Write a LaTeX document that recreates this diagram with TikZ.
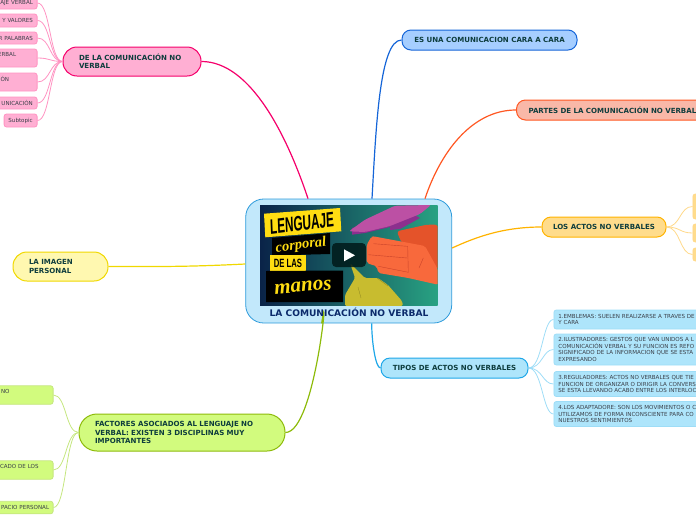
\documentclass[tikz,border=0pt]{standalone}
\usepackage{fontspec}
\usepackage{xcolor}
\setmainfont{DejaVu Sans}
\newfontfamily\thumbfont{Liberation Sans}
\newfontfamily\thumbscript{Liberation Serif}
\usetikzlibrary{calc}
\definecolor{inktext}{HTML}{0E3D3D}
\definecolor{inksub}{HTML}{3A3F48}
\definecolor{inkcentral}{HTML}{0B2A6B}
\definecolor{pinkfill}{HTML}{FFAFD3}
\definecolor{pinkline}{HTML}{F5006B}
\definecolor{pinksoft}{HTML}{FF93C2}
\definecolor{bluefill}{HTML}{A6CEFF}
\definecolor{blueline}{HTML}{1565D8}
\definecolor{redfill}{HTML}{F9B8A8}
\definecolor{redline}{HTML}{FF5722}
\definecolor{goldfill}{HTML}{FFDC8C}
\definecolor{goldline}{HTML}{FFB300}
\definecolor{goldsoft}{HTML}{FFD98A}
\definecolor{cyanfill}{HTML}{AEE5FB}
\definecolor{cyanline}{HTML}{1EA7E8}
\definecolor{cyansoft}{HTML}{9EDDF7}
\definecolor{lemonfill}{HTML}{FFF8B0}
\definecolor{lemonline}{HTML}{F0D800}
\definecolor{limefill}{HTML}{D2FB7E}
\definecolor{limeline}{HTML}{8DBB0A}
\definecolor{limesoft}{HTML}{C5E67F}
\definecolor{centralfill}{HTML}{C2E8FB}
\definecolor{centralline}{HTML}{2E9BDB}
\definecolor{thumbyellow}{HTML}{FFDD12}
\definecolor{thumbpink}{HTML}{BC50A4}
\definecolor{thumbpurple}{HTML}{8C2F8E}
\definecolor{thumbdark}{HTML}{E4532A}
\definecolor{thumborange}{HTML}{F8693C}
\definecolor{thumbcrease}{HTML}{C9432A}
\definecolor{thumbolive}{HTML}{C8BC2F}
\definecolor{thumbnavy}{HTML}{0A2348}
\definecolor{thumbteal}{HTML}{1A8094}
\definecolor{thumbgreen}{HTML}{28A282}
\tikzset{
	every picture/.style={x=1pt,y=-1pt},
	topic/.style={draw,line width=1pt,rounded corners=#1,font=\fontsize{7.05}{8.3}\selectfont\bfseries,
		text=inktext,align=left,inner ysep=0pt},
	subtopic/.style={draw,line width=.8pt,rounded corners=2.5pt,font=\fontsize{5.55}{6.5}\selectfont,
		text=inksub,inner ysep=0pt,anchor=east},
	sublink/.style={line width=.8pt},
	mainlink/.style={line width=1.2pt}
}
\begin{document}
\begin{tikzpicture}
\useasboundingbox (0,0) rectangle (696,520);
\clip (0,0) rectangle (696,520);
%中心主题
\node[draw=centralline,fill=centralfill,line width=.8pt,rounded corners=18pt,
	minimum width=206pt,minimum height=124pt,inner sep=0pt] (central) at (348.7,261) {};
%一级主题
\node[topic=14pt,draw=pinkline,fill=pinkfill,text width=106pt,inner xsep=16pt,minimum height=29pt] (topicde) at (132,61.5)
	{DE LA COMUNICACIÓN NO\\VERBAL};
\node[topic=9pt,draw=blueline,fill=bluefill,align=center,minimum width=175pt,minimum height=20pt] (topiccara) at (489.5,40)
	{ES UNA COMUNICACION CARA A CARA};
\node[topic=9pt,draw=redline,fill=redfill,anchor=west,text width=180pt,inner xsep=12pt,minimum height=20pt] (topicpartes) at (516,110)
	{PARTES DE LA COMUNICACIÓN NO VERBAL};
\node[topic=9pt,draw=goldline,fill=goldfill,align=center,minimum width=124pt,minimum height=20pt] (topicactos) at (604,227)
	{LOS ACTOS NO VERBALES};
\node[topic=9pt,draw=cyanline,fill=cyanfill,align=center,minimum width=147pt,minimum height=20pt] (topictipos) at (454.5,368)
	{TIPOS DE ACTOS NO VERBALES};
\node[topic=14pt,draw=lemonline,fill=lemonfill,text width=63pt,inner xsep=16pt,minimum height=29pt] (topicimagen) at (60.5,266.5)
	{LA IMAGEN\\PERSONAL};
\node[topic=18pt,draw=limeline,fill=limefill,text width=174pt,inner xsep=16pt,minimum height=37pt] (topicfactores) at (182,432.5)
	{FACTORES ASOCIADOS AL LENGUAJE NO\\VERBAL: EXISTEN 3 DISCIPLINAS MUY\\IMPORTANTES};
%中心主题到一级主题的连线
\draw[mainlink,pinkline] (topicde.east) .. controls +(50,0) and +(-20,-60) .. ([xshift=-40.7pt]central.north);
\draw[mainlink,blueline] (topiccara.west) .. controls +(-22,0) and +(4,-70) .. ([xshift=23.3pt]central.north);
\draw[mainlink,redline] (topicpartes.west) .. controls +(-45,0) and +(15,-45) .. ([xshift=76.3pt]central.north);
\draw[mainlink,goldline] (topicactos.west) .. controls +(-40,0) and +(22,-10) .. ([yshift=13pt]central.east);
\draw[mainlink,cyanline] (topictipos.west) .. controls +(-5,0) and +(0,18) .. ([xshift=23pt]central.south);
\draw[mainlink,lemonline] (topicimagen.east) .. controls +(50,0) and +(-60,3) .. ([yshift=-3pt]central.west);
\draw[mainlink,limeline] (topicfactores.east) .. controls +(30,0) and +(8,-55) .. ([xshift=-27pt]central.south);
%左上粉色子主题
\node[subtopic,draw=pinksoft,fill=pinkfill,align=right,text width=41pt,inner xsep=4.2pt,minimum height=12pt] (subpa) at (37.5,3) {AJE VERBAL};
\node[subtopic,draw=pinksoft,fill=pinkfill,align=right,text width=41pt,inner xsep=4.2pt,minimum height=13pt] (subpb) at (37.5,20.5) {Y VALORES};
\node[subtopic,draw=pinksoft,fill=pinkfill,align=right,text width=41pt,inner xsep=4.2pt,minimum height=12pt] (subpc) at (37.5,38) {R PALABRAS};
\node[subtopic,draw=pinksoft,fill=pinkfill,align=right,text width=41pt,inner xsep=4.2pt,minimum height=18pt] (subpd) at (37.5,58) {\mbox{ERBAL\kern16.8pt}\\\mbox{}};
\node[subtopic,draw=pinksoft,fill=pinkfill,align=right,text width=41pt,inner xsep=4.2pt,minimum height=18pt] (subpe) at (37.5,82) {\mbox{ÓN\kern23.8pt}\\\mbox{}};
\node[subtopic,draw=pinksoft,fill=pinkfill,align=right,text width=41pt,inner xsep=4.2pt,minimum height=12pt] (subpf) at (37.5,103) {UNICACIÓN};
\node[subtopic,draw=pinksoft,fill=pinkfill,minimum width=33pt,minimum height=13pt,inner xsep=0pt,align=center] (subpg) at (37.5,120.5) {Subtopic};
\foreach \sub in {subpa,subpb,subpc,subpd,subpe,subpf,subpg}
	\draw[sublink,pinksoft] (topicde.west) .. controls +(-13,0) and +(13,0) .. (\sub.east);
%右侧黄色子主题
\node[subtopic,draw=goldsoft,fill=goldfill,anchor=west,minimum width=20pt,minimum height=25pt] (subga) at (692.5,206.5) {};
\node[subtopic,draw=goldsoft,fill=goldfill,anchor=west,minimum width=20pt,minimum height=18pt] (subgb) at (692.5,233) {};
\node[subtopic,draw=goldsoft,fill=goldfill,anchor=west,minimum width=20pt,minimum height=13pt] (subgc) at (692.5,254.5) {};
\foreach \sub in {subga,subgb,subgc}
	\draw[sublink,goldsoft] (topicactos.east) .. controls +(14,0) and +(-13,0) .. (\sub.west);
%右下蓝色子主题
\node[subtopic,draw=cyansoft,fill=cyanfill,anchor=west,align=left,text width=190pt,inner xsep=4.5pt,minimum height=19pt] (subca) at (553.5,319.5)
	{1.EMBLEMAS: SUELEN REALIZARSE A TRAVES DE\\Y CARA};
\node[subtopic,draw=cyansoft,fill=cyanfill,anchor=west,align=left,text width=190pt,inner xsep=4.5pt,minimum height=31pt] (subcb) at (553.5,349.5)
	{2.ILUSTRADORES: GESTOS QUE VAN UNIDOS A L\\COMUNICACIÓN VERBAL Y SU FUNCION ES REFO\\SIGNIFICADO DE LA INFORMACION QUE SE ESTA\\EXPRESANDO};
\node[subtopic,draw=cyansoft,fill=cyanfill,anchor=west,align=left,text width=190pt,inner xsep=4.5pt,minimum height=25pt] (subcc) at (553.5,384)
	{3.REGULADORES: ACTOS NO VERBALES QUE TIE\\FUNCION DE ORGANIZAR O DIRIGIR LA CONVERS\\SE ESTA LLEVANDO ACABO ENTRE LOS INTERLOC};
\node[subtopic,draw=cyansoft,fill=cyanfill,anchor=west,align=left,text width=190pt,inner xsep=4.5pt,minimum height=25pt] (subcd) at (553.5,414)
	{4.LOS ADAPTADORE: SON LOS MOVIMIENTOS O C\\UTILIZAMOS DE FORMA INCONSCIENTE PARA CO\\NUESTROS SENTIMIENTOS};
\foreach \sub in {subca,subcb,subcc,subcd}
	\draw[sublink,cyansoft] (topictipos.east) .. controls +(14,0) and +(-11,0) .. (\sub.west);
%左下绿色子主题
\node[subtopic,draw=limesoft,fill=limefill,align=right,text width=55pt,inner xsep=4pt,minimum height=18.5pt] (subla) at (53.5,395) {\mbox{NO\kern39.5pt}\\\mbox{}};
\node[subtopic,draw=limesoft,fill=limefill,align=right,text width=55pt,inner xsep=4pt,minimum height=18.5pt] (sublb) at (53.5,470) {\mbox{CADO DE LOS\kern10.5pt}\\\mbox{}};
\node[subtopic,draw=limesoft,fill=limefill,align=right,text width=55pt,inner xsep=4pt,minimum height=12.5pt] (sublc) at (53.5,507.5) {PACIO PERSONAL};
\foreach \sub in {subla,sublb,sublc}
	\draw[sublink,limesoft] (topicfactores.west) .. controls +(-13,0) and +(13,0) .. (\sub.east);
%视频缩略图
\begin{scope}
\clip (260,205) rectangle (437.5,305);
\shade[left color=thumbnavy,middle color=thumbteal,right color=thumbgreen] (260,205) rectangle (437.5,305);
%紫色的手
\fill[thumbpurple] (352,234.7) -- (365,233) -- (390,227) -- (390,230) -- (400,229) -- (420,218) -- (410,212) -- (352,228) -- cycle;
\fill[thumbpink,rounded corners=2pt] (349,231.3) -- (365,219.7) -- (395,205.7) -- (431,205) -- (420,214) -- (390,226) -- (365,232) -- cycle;
%橙色的手
\fill[thumbdark,rounded corners=3pt] (396.7,231.3) -- (426.7,224.7) -- (438,224.7) -- (438,269.7) -- (426.7,268) -- (421.7,246.3) -- (401.7,243) -- cycle;
\fill[thumborange,rounded corners=2pt] (373.3,236.3) -- (400,241.3) -- (425,246) -- (438,269.7) -- (438,284.7) -- (408.3,278) -- (378.3,273) -- (376.7,266.3) -- (366.7,263) -- (366.7,244.7) -- (371.7,236.3) -- cycle;
\draw[thumbcrease,line width=.4pt] (373.3,243.7) -- (407.3,246.3) (368.3,254.7) -- (407.3,258) (378.3,266.3) -- (408.3,272.3) (407.7,246.3) -- (408.3,272.3) (419,268) -- (423.3,258);
%黄绿色的手
\fill[thumbolive,rounded corners=1.5pt] (350,263) -- (365,278) -- (378,278) -- (388,285) -- (402,301) -- (403,306) -- (345,306) -- (345,295) -- (355,278) -- cycle;
\draw[thumbolive!70!black,line width=.3pt] (358,287) -- (361,298) (377,278) -- (388,286);
%文字色块
\fill[thumbyellow] (264,213.7) -- (340,208) -- (341.3,231.3) -- (265.3,237.3) -- cycle;
\fill[black] (272,238) -- (330,233) -- (330,254) -- (272,255.5) -- cycle;
\fill[thumbyellow] (270,255) rectangle (306,271);
\fill[black] (266,271) -- (343,270.5) -- (343,302) -- (266,302) -- cycle;
%播放按钮
\fill[black!80!teal,opacity=.85,rounded corners=4pt] (332,243) rectangle (366,267);
\fill[white] (344,249.3) -- (355,255.3) -- (344,261.3) -- cycle;
\end{scope}
\node[inner sep=0pt,xscale=.56,rotate=4,font=\thumbfont\fontsize{21}{21}\selectfont\bfseries] (thumbfirst) at (302,223) {LENGUAJE};
\node[inner sep=0pt,text=thumbyellow,rotate=7,font=\thumbscript\fontsize{14.5}{14.5}\selectfont\bfseries\itshape] (thumbsecond) at (301,245.5) {corporal};
\node[inner sep=0pt,xscale=.64,font=\thumbfont\fontsize{12}{12}\selectfont\bfseries] (thumbthird) at (288,263) {DE LAS};
\node[inner sep=0pt,text=thumbyellow,rotate=5,font=\thumbscript\fontsize{21}{21}\selectfont\bfseries\itshape] (thumbfourth) at (303,287) {manos};
\node[inner sep=0pt,text=inkcentral,font=\fontsize{9.1}{10}\selectfont\bfseries] (centrallabel) at (349,312.5) {LA COMUNICACIÓN NO VERBAL};
\end{tikzpicture}
\end{document}
